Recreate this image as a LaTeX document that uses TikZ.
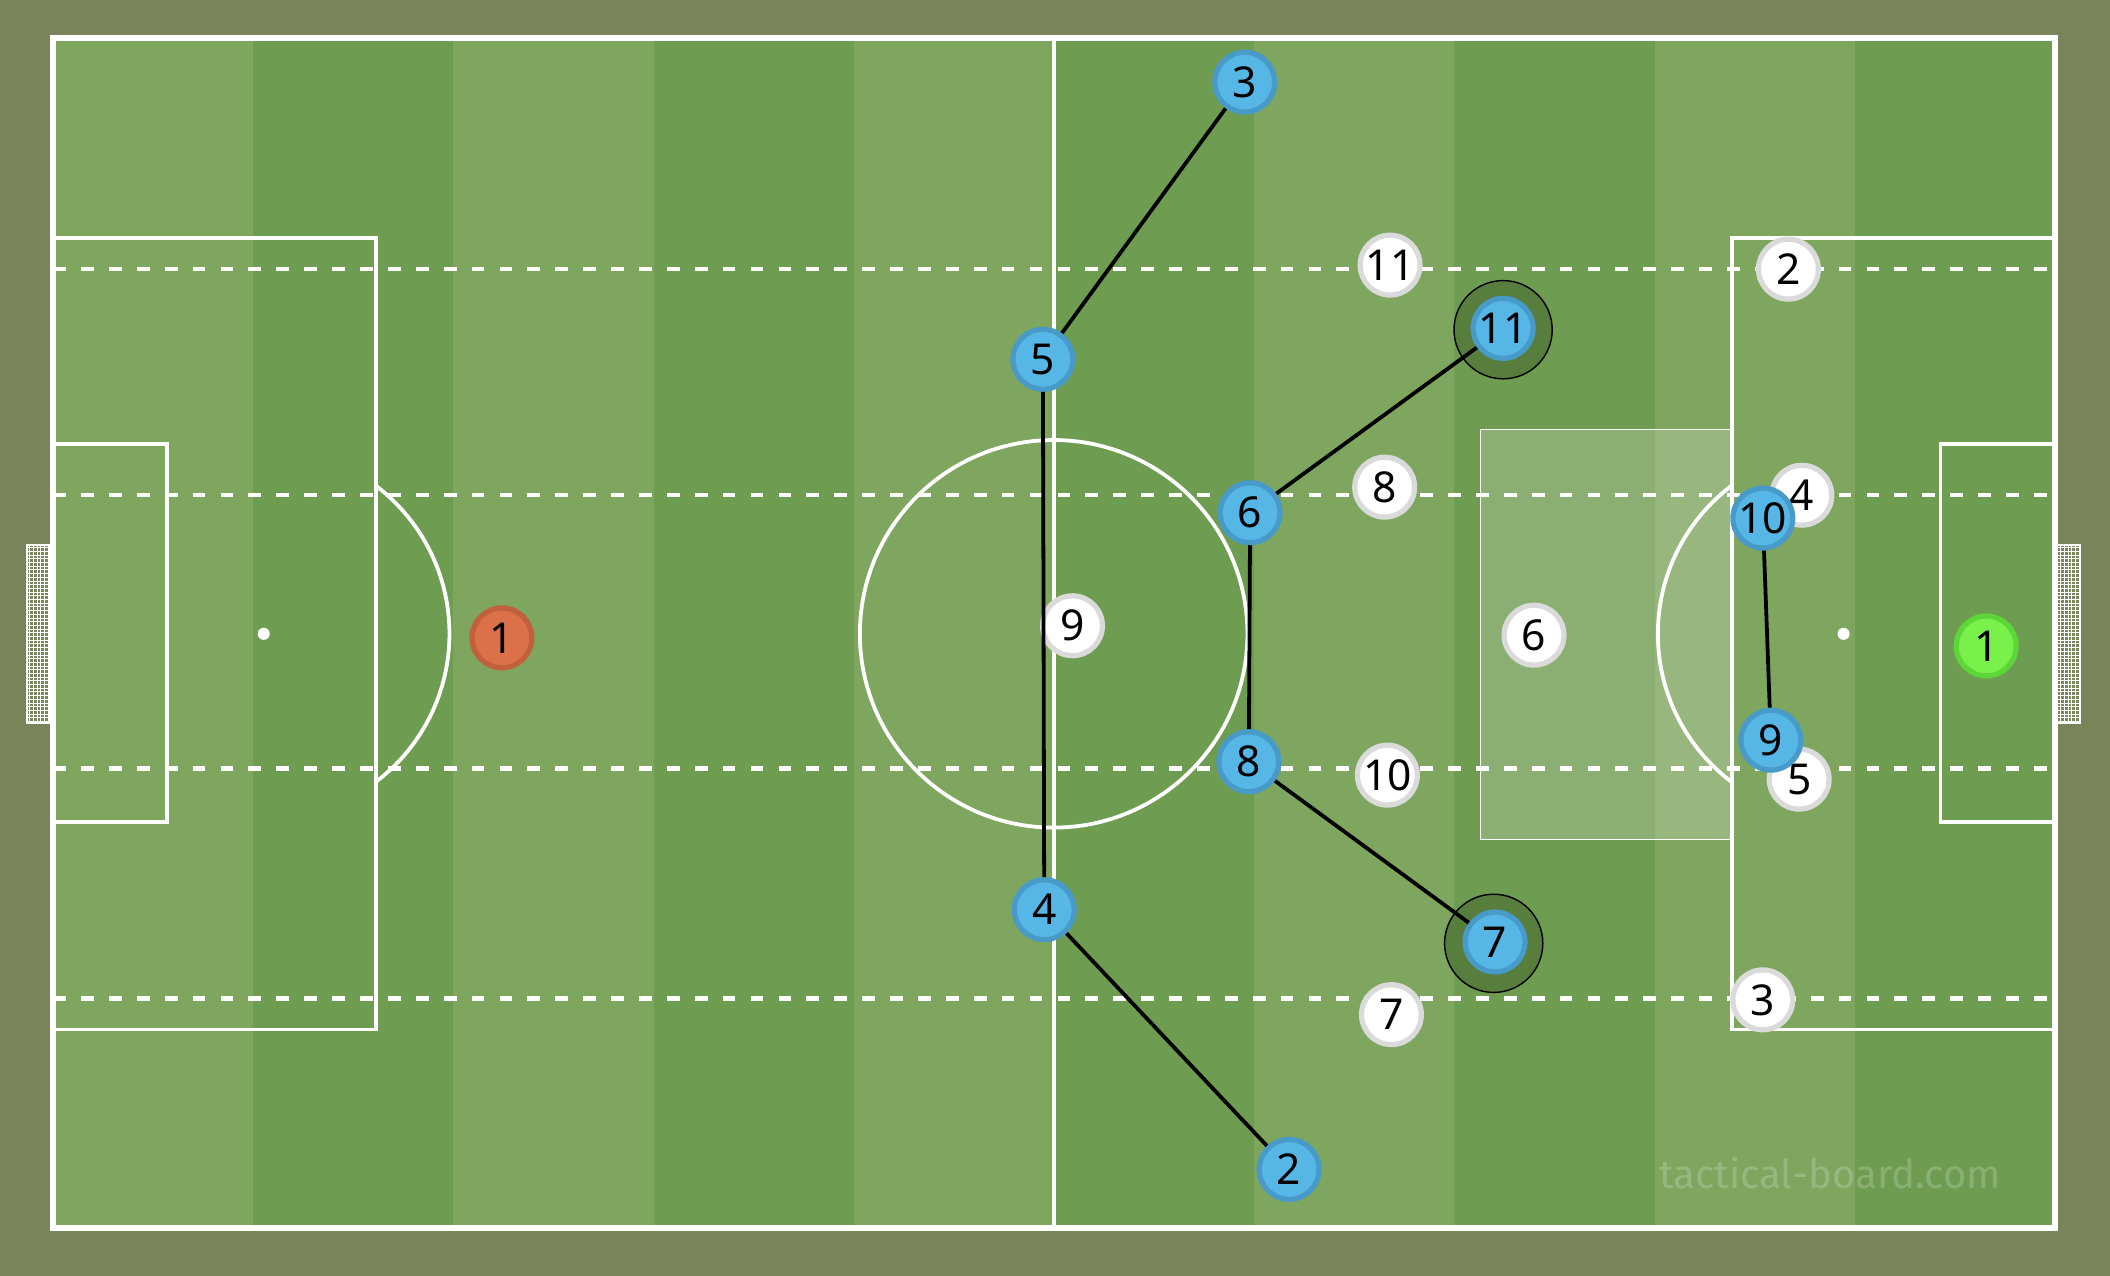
\documentclass[tikz,border=0pt]{standalone}
\usepackage{fontspec}
\setmainfont{Noto Sans}
\newfontfamily\markfont{Fira Sans}
\definecolor{turf}{RGB}{122,132,91}
\definecolor{grasslight}{RGB}{126,166,95}
\definecolor{grassdark}{RGB}{110,156,80}
\definecolor{homefill}{RGB}{86,182,230}
\definecolor{homeedge}{RGB}{72,154,200}
\definecolor{awayedge}{RGB}{218,218,218}
\definecolor{ringfill}{RGB}{88,126,62}
\definecolor{gkfill}{RGB}{219,112,73}
\definecolor{gkedge}{RGB}{194,96,62}
\definecolor{gkfilltwo}{RGB}{122,240,74}
\definecolor{gkedgetwo}{RGB}{93,214,58}
\tikzset{
	home/.style={circle,fill=homefill,draw=homeedge,line width=2.2pt,minimum size=0.89cm,inner sep=0pt,font=\fontsize{18}{18}\selectfont},
	away/.style={home,fill=white,draw=awayedge},
	keeperl/.style={home,fill=gkfill,draw=gkedge},
	keeperr/.style={home,fill=gkfilltwo,draw=gkedgetwo},
	ring/.style={circle,fill=ringfill,draw=black,line width=0.6pt,minimum size=1.46cm,inner sep=0pt},
	pline/.style={draw=white,line width=1.6pt},
	zone/.style={white,line width=1.8pt,dash pattern=on 5.4pt off 6.4pt},
	link/.style={color=black,line width=1.6pt}
}
\begin{document}
\begin{tikzpicture}[x=0.02cm,y=-0.02cm]
		\useasboundingbox (0,0) rectangle (1568,948);
		\fill[turf] (0,0) rectangle (1568,948);
		
		%%%pitch
		\fill[grasslight] (39.5,28.5) rectangle (1527,912.5);
		\foreach \i in {1,3,5,7,9}
			\fill[grassdark] ({39.5+148.75*\i},28.5) rectangle ({39.5+148.75*(\i+1)},912.5);
		\fill[white,opacity=0.2] (1100,319) rectangle (1287,624);
		\draw[white,line width=0.6pt] (1287,319) -- (1100,319) -- (1100,624) -- (1287,624);
		
		\draw[pline] (783,28.5) -- (783,912.5);
		\draw[pline] (783,471) circle[radius=144];
		\draw[pline] (39.5,177) rectangle (279.5,765);
		\draw[pline] (39.5,330) rectangle (124,611);
		\draw[pline] (1287,177) rectangle (1527,765);
		\draw[pline] (1442,330) rectangle (1527,611);
		\begin{scope}
			\clip (279.5,0) rectangle (600,948);
			\draw[pline] (196,471) circle[radius=138];
		\end{scope}
		\begin{scope}
			\clip (1000,0) rectangle (1287,948);
			\draw[pline] (1370,471) circle[radius=138];
		\end{scope}
		\fill[white] (196,471) circle[radius=4.5];
		\fill[white] (1370,471) circle[radius=4.5];
		
		%%%goals
		\draw[white,line width=0.25pt,step=0.055cm] (20,405) grid (37,537);
		\draw[white,line width=0.8pt] (20,405) rectangle (37,537);
		\draw[white,line width=0.25pt,step=0.055cm] (1529,405) grid (1546,537);
		\draw[white,line width=0.8pt] (1529,405) rectangle (1546,537);
		
		\draw[white,line width=2.5pt] (39.5,28.5) rectangle (1527,912.5);
		
		%%%zones
		\foreach \y in {200,368,571,742}
			\draw[zone] (39.5,\y) -- (1527,\y);
		
		\node[text=white,text opacity=0.2,font=\markfont\fontsize{17}{17}\selectfont] (mark) at (1360,872) {tactical-board.com};
		
		%%%away side
		\node[away] (w11) at (1033,197) {11};
		\node[away] (w2) at (1329,200) {2};
		\node[away] (w8) at (1029,362) {8};
		\node[away] (w4) at (1339,368) {4};
		\node[away] (w9) at (797,465) {9};
		\node[away] (w6) at (1140,472) {6};
		\node[away] (w10) at (1031,576) {10};
		\node[away] (w5) at (1337,579) {5};
		\node[away] (w3) at (1310,743) {3};
		\node[away] (w7) at (1034,754) {7};
		\node[keeperr] (g2) at (1476,480) {1};
		
		%%%home side
		\node[keeperl] (g1) at (373,474) {1};
		\node[ring] (r11) at (1117,245) {};
		\node[ring] (r7) at (1110,701) {};
		\node[home] (b3) at (925,61) {3};
		\node[home] (b5) at (775,267) {5};
		\node[home] (b11) at (1117,244) {11};
		\node[home] (b6) at (929,381) {6};
		\node[home] (b8) at (928,566) {8};
		\node[home] (b4) at (776,676) {4};
		\node[home] (b7) at (1111,700) {7};
		\node[home] (b2) at (958,869) {2};
		\node[home] (b10) at (1310,385) {10};
		\node[home] (b9) at (1316,550) {9};
		
		\draw[link] (b3) -- (b5) -- (b4) -- (b2);
		\draw[link] (b11) -- (b6) -- (b8) -- (b7);
		\draw[link] (b10) -- (b9);
	\end{tikzpicture}
\end{document}
